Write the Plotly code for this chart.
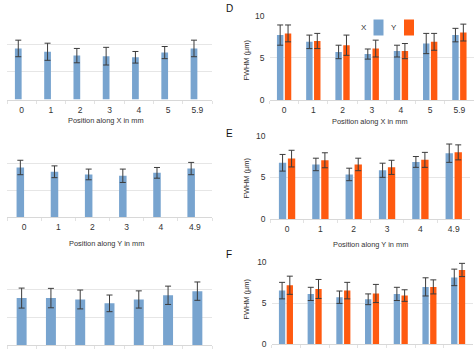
import plotly.graph_objects as go

# ---------------- data ----------------
pos_x = ["0", "1", "2", "3", "4", "5", "5.9"]
pos_y = ["0", "1", "2", "3", "4", "4.9"]
pos_f = ["0", "1", "2", "3", "4", "5", "6"]

# left column (y tick labels cropped away)
a_vals = [18.5, 17.3, 15.9, 15.7, 15.3, 17.0, 18.5]
a_err = [3.0, 3.1, 2.6, 3.2, 2.1, 2.2, 3.0]
b_vals = [18.5, 16.9, 15.9, 15.4, 16.5, 18.1]
b_err = [2.7, 2.2, 2.0, 2.5, 2.0, 2.3]
c_vals = [16.9, 16.9, 16.4, 15.0, 16.4, 17.9, 19.4]
c_err = [3.6, 3.5, 3.4, 3.0, 3.1, 3.3, 3.3]

# right column: FWHM (um), X and Y
d_x = [7.7, 6.9, 5.7, 5.45, 5.8, 6.7, 7.7]
d_x_err = [1.2, 0.8, 0.8, 0.6, 0.7, 1.2, 0.8]
d_y = [7.9, 7.0, 6.5, 6.1, 5.8, 6.9, 8.0]
d_y_err = [1.0, 0.9, 1.2, 1.0, 0.9, 1.0, 1.0]

e_x = [6.75, 6.55, 5.35, 5.85, 6.85, 7.9]
e_x_err = [1.0, 0.75, 0.75, 0.85, 0.65, 1.1]
e_y = [7.25, 7.05, 6.55, 6.2, 7.1, 8.0]
e_y_err = [1.0, 0.9, 0.75, 0.85, 0.9, 0.9]

f_x = [6.5, 6.1, 5.7, 5.45, 6.1, 6.95, 8.1]
f_x_err = [1.0, 0.8, 0.75, 0.65, 0.8, 1.1, 1.0]
f_y = [7.15, 6.7, 6.5, 6.15, 5.9, 6.95, 9.0]
f_y_err = [1.1, 1.15, 1.0, 1.1, 0.7, 0.85, 0.8]

# ---------------- style ----------------
W, H = 474, 350
BLUE = "#78a4cf"
ORANGE = "#ff5a10"
ERR = "#3c3c3c"
GRID = "#e6e6e6"
TXT = "#333333"
FONT = "Liberation Sans, Arial, sans-serif"


def fx(p):
    return p / W


def fy(p):
    return 1 - p / H


fig = go.Figure()


def err(v):
    return dict(type="data", array=v, color=ERR, thickness=1, width=3, visible=True)


def add_bar(idx, cats, vals, errs, color, width, offset):
    fig.add_trace(go.Bar(
        x=cats, y=vals, error_y=err(errs), marker=dict(color=color, line=dict(width=0)),
        width=width, offset=offset, xaxis=f"x{idx}", yaxis=f"y{idx}", showlegend=False,
        hoverinfo="x+y"))


# panel definitions: idx, x-domain px, y-domain px (top, bottom)
panels = {
    1: dict(xd=(7, 212), yd=(16.7, 99.5), rng=30, dt=10, labels=True, ylab=False),
    2: dict(xd=(7, 212), yd=(136.7, 217.0), rng=30, dt=10, labels=True, ylab=False),
    3: dict(xd=(7, 212), yd=(261.7, 345.0), rng=30, dt=10, labels=False, ylab=False),
    4: dict(xd=(269.5, 474), yd=(15.7, 100.0), rng=10, dt=5, labels=True, ylab=True),
    5: dict(xd=(270.4, 470.4), yd=(135.7, 219.0), rng=10, dt=5, labels=True, ylab=True),
    6: dict(xd=(271.6, 472.5), yd=(261.7, 344.3), rng=10, dt=5, labels=False, ylab=True),
}

add_bar(1, pos_x, a_vals, a_err, BLUE, 0.23, -0.23)
add_bar(2, pos_y, b_vals, b_err, BLUE, 0.22, -0.22)
add_bar(3, pos_f, c_vals, c_err, BLUE, 0.34, -0.17)
add_bar(4, pos_x, d_x, d_x_err, BLUE, 0.22, -0.245)
add_bar(4, pos_x, d_y, d_y_err, ORANGE, 0.22, 0.025)
add_bar(5, pos_y, e_x, e_x_err, BLUE, 0.22, -0.245)
add_bar(5, pos_y, e_y, e_y_err, ORANGE, 0.22, 0.025)
add_bar(6, pos_f, f_x, f_x_err, BLUE, 0.22, -0.245)
add_bar(6, pos_f, f_y, f_y_err, ORANGE, 0.22, 0.025)

layout = dict(
    width=W, height=H, margin=dict(l=0, r=0, t=0, b=0),
    template="none", paper_bgcolor="white", plot_bgcolor="white",
    font=dict(family=FONT, size=8, color=TXT), showlegend=False,
)

for i, p in panels.items():
    xs = "xaxis" if i == 1 else f"xaxis{i}"
    ys = "yaxis" if i == 1 else f"yaxis{i}"
    layout[xs] = dict(
        domain=[fx(p["xd"][0]), fx(p["xd"][1])], anchor=f"y{i}", type="category",
        showgrid=False, zeroline=False, showline=True, linecolor="#d8d8d8", linewidth=1,
        ticks="outside", ticklen=3, tickcolor="#e2e2e2", tickson="boundaries",
        showticklabels=p["labels"], tickfont=dict(size=8.5, color=TXT),
        ticklabelstandoff=2,
        fixedrange=True, automargin=False,
    )
    layout[ys] = dict(
        domain=[fy(p["yd"][1]), fy(p["yd"][0])], anchor=f"x{i}", range=[0, p["rng"]],
        dtick=p["dt"], tick0=0, showgrid=True, gridcolor=GRID, gridwidth=1,
        zeroline=False, showline=False, ticks="", showticklabels=p["ylab"],
        tickfont=dict(size=8.5, color=TXT), ticklabelstandoff=4,
        fixedrange=True, automargin=False,
    )

fig.update_layout(**layout)

annotations = []


def ann(text, x, y, size=7.4, angle=0, color=TXT, xanchor="center"):
    annotations.append(dict(text=text, x=fx(x), y=fy(y), xref="paper", yref="paper",
                            showarrow=False, font=dict(size=size, color=color, family=FONT),
                            textangle=angle, xanchor=xanchor, yanchor="middle"))


ann("Position along X in mm", 106, 120)
ann("Position along X in mm", 370, 121.5)
ann("Position along Y in mm", 106, 243.5)
ann("Position along Y in mm", 370, 244)
ann("FWHM (µm)", 245.5, 60, angle=-90)
ann("FWHM (µm)", 245.5, 178, angle=-90)
ann("FWHM (µm)", 245.5, 299, angle=-90)
ann("D", 229, 8, size=10, color="#111111")
ann("E", 229, 134, size=10, color="#111111")
ann("F", 229, 254, size=10, color="#111111")
ann("X", 364, 28, size=8)
ann("Y", 393.5, 28, size=8)

shapes = [
    dict(type="rect", xref="paper", yref="paper", x0=fx(373.5), x1=fx(383.5),
         y0=fy(35.5), y1=fy(19.5), fillcolor=BLUE, line=dict(width=0)),
    dict(type="rect", xref="paper", yref="paper", x0=fx(404), x1=fx(414),
         y0=fy(35.5), y1=fy(19.5), fillcolor=ORANGE, line=dict(width=0)),
]

fig.update_layout(annotations=annotations, shapes=shapes)
fig.write_html("out.html")
